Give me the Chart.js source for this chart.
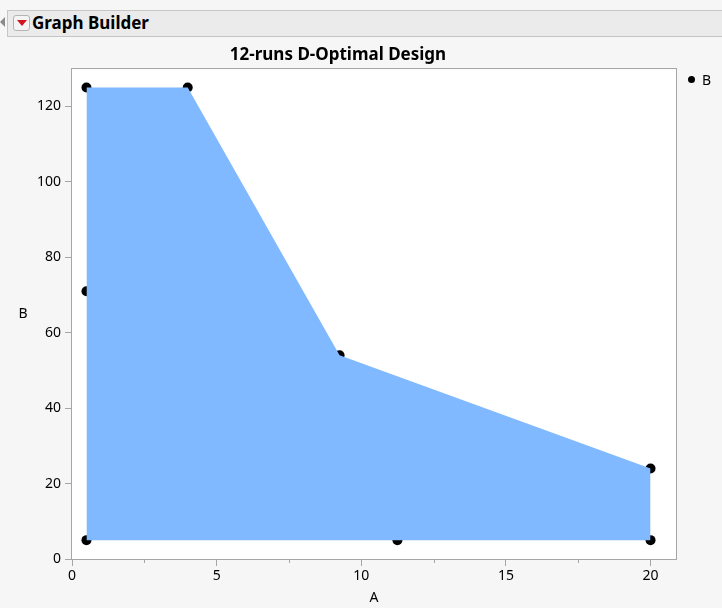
<!DOCTYPE html>
<html>
<head>
<meta charset="utf-8">
<script src="https://cdn.jsdelivr.net/npm/chart.js@4/dist/chart.umd.min.js"></script>
<style>
  html, body { margin: 0; padding: 0; background: #f6f6f6; }
  body { width: 722px; height: 608px; position: relative; overflow: hidden; font-family: "Noto Sans", "Open Sans", sans-serif; }
  #chart { position: absolute; left: 0; top: 0; }
  .bar { position: absolute; left: 7px; top: 10px; width: 730px; height: 25px; background: #ebebeb; border: 1px solid #c6c6c6; z-index: 2; }
  .bar .btn { position: absolute; left: 5px; top: 4px; width: 15px; height: 14px; background: #f4f4f4; border: 1px solid #b4b4b4; border-radius: 3px; }
  .bar .btn::after { content: ""; position: absolute; left: 3px; top: 4px; border-left: 5px solid transparent; border-right: 5px solid transparent; border-top: 6px solid #d4141c; }
  .bar .label { position: absolute; left: 24px; top: 0px; font-weight: bold; font-size: 17px; color: #000; }
  .grip { position: absolute; left: 0; top: 17px; width: 0; height: 0; border-top: 5px solid transparent; border-bottom: 5px solid transparent; border-right: 5px solid #8a8a8a; z-index: 2; }
  .legend { position: absolute; left: 688px; top: 70px; font-size: 14px; color: #000; }
  .legend .dot { display: inline-block; width: 7px; height: 7px; border-radius: 50%; background: #000; margin-right: 7px; vertical-align: 2px; }
</style>
</head>
<body>
<div class="grip"></div>
<div class="bar"><span class="btn"></span><span class="label">Graph Builder</span></div>
<canvas id="chart" width="722" height="608"></canvas>
<div class="legend"><span class="dot"></span>B</div>
<script>
// design runs
const runA = [0.5, 4, 0.5, 9.25, 20, 20, 11.25, 0.5];
const runB = [125, 125, 71, 54, 24, 5, 5, 5];

// feasible region (upper boundary, filled down to the floor)
const regionA = [0.5, 4, 9.25, 20];
const regionB = [125, 125, 54, 24];
const regionFloor = 5;

const xTicks = [0, 5, 10, 15, 20];
const yTicks = [0, 20, 40, 60, 80, 100, 120];

const FONT = '"Noto Sans", "Open Sans", sans-serif';
const AXIS_GREY = '#a6a6a6';

const frame = {
  id: 'frame',
  beforeDraw(chart) {
    const { ctx, chartArea: a } = chart;
    ctx.save();
    ctx.fillStyle = '#ffffff';
    ctx.fillRect(a.left, a.top, a.right - a.left, a.bottom - a.top);
    ctx.restore();
  },
  afterDraw(chart) {
    const { ctx, chartArea: a } = chart;
    const xs = chart.scales.x;
    ctx.save();
    ctx.strokeStyle = AXIS_GREY;
    ctx.lineWidth = 1;
    ctx.strokeRect(Math.round(a.left) - 0.5, Math.round(a.top) - 0.5, Math.round(a.right - a.left) + 1, Math.round(a.bottom - a.top) + 1);
    // minor ticks on A
    ctx.beginPath();
    for (let v = 2.5; v < xs.max; v += 5) {
      const px = Math.round(xs.getPixelForValue(v)) + 0.5;
      ctx.moveTo(px, a.bottom);
      ctx.lineTo(px, a.bottom + 4);
    }
    ctx.stroke();
    // axis titles
    ctx.fillStyle = '#000';
    ctx.font = '14px ' + FONT;
    ctx.textAlign = 'center';
    ctx.textBaseline = 'middle';
    ctx.fillText('A', (a.left + a.right) / 2, 598);
    ctx.fillText('B', 23, (a.top + a.bottom) / 2);
    ctx.restore();
  }
};

new Chart(document.getElementById('chart'), {
  type: 'scatter',
  data: {
    datasets: [
      {
        label: 'region',
        data: regionA.map((a, i) => ({ x: a, y: regionB[i] })),
        showLine: true,
        fill: { value: regionFloor },
        backgroundColor: '#80b9ff',
        borderColor: '#80b9ff',
        borderWidth: 0,
        pointRadius: 0,
        tension: 0,
        order: 0
      },
      {
        label: 'B',
        data: runA.map((a, i) => ({ x: a, y: runB[i] })),
        backgroundColor: '#000',
        borderColor: '#000',
        pointRadius: 5,
        borderWidth: 0,
        order: 1
      }
    ]
  },
  options: {
    responsive: false,
    animation: false,
    devicePixelRatio: 1,
    layout: { padding: { left: 0, right: 46, top: 0, bottom: 0 } },
    plugins: {
      legend: { display: false },
      tooltip: { enabled: false },
      title: {
        display: true,
        text: '12-runs D-Optimal Design',
        color: '#000',
        font: { family: FONT, size: 17, weight: 'bold' },
        padding: { top: 45, bottom: 4 }
      }
    },
    scales: {
      x: {
        type: 'linear',
        min: 0,
        max: 20.88,
        afterFit(s) { s.height = 49; },
        afterBuildTicks(s) { s.ticks = xTicks.map(v => ({ value: v })); },
        ticks: { color: '#000', font: { family: FONT, size: 14 }, padding: 2, maxRotation: 0 },
        grid: { drawOnChartArea: false, drawTicks: true, tickLength: 7, color: AXIS_GREY },
        border: { display: false }
      },
      y: {
        type: 'linear',
        min: 0,
        max: 129.8,
        afterFit(s) { s.width = 72; },
        afterBuildTicks(s) { s.ticks = yTicks.map(v => ({ value: v })); },
        ticks: { color: '#000', font: { family: FONT, size: 14 }, padding: 4 },
        grid: { drawOnChartArea: false, drawTicks: true, tickLength: 7, color: AXIS_GREY },
        border: { display: false }
      }
    }
  },
  plugins: [frame]
});
</script>
</body>
</html>
